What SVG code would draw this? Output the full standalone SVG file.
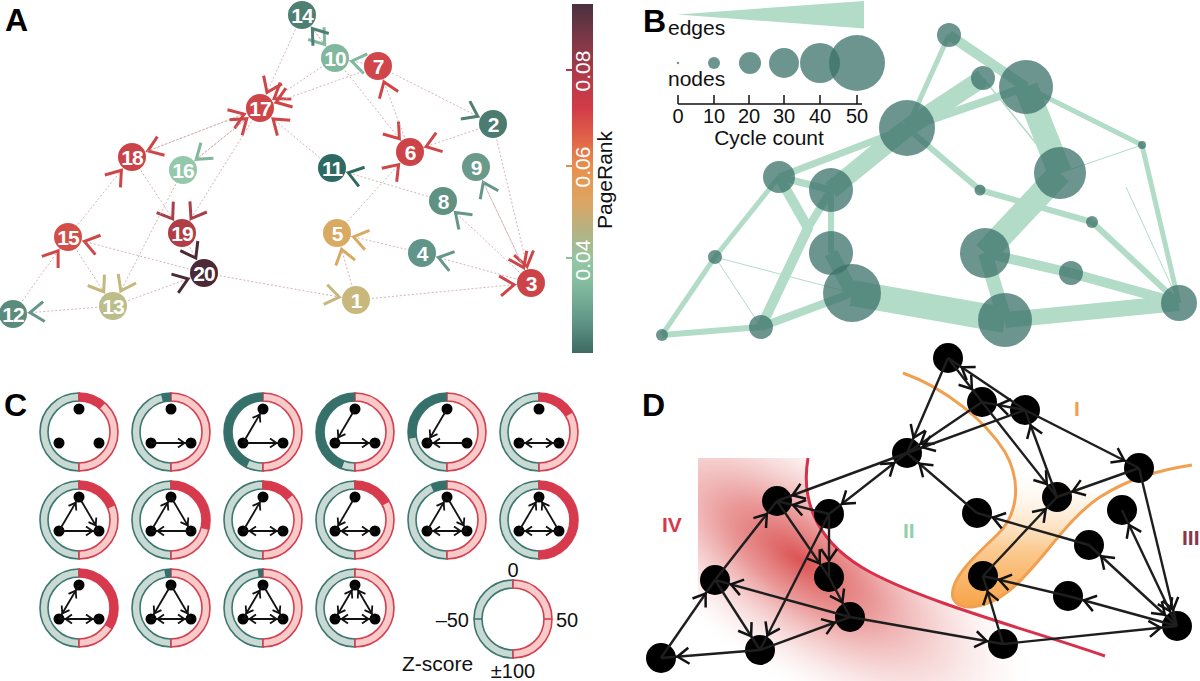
<svg xmlns="http://www.w3.org/2000/svg" width="1200" height="681" viewBox="0 0 1200 681">
<style>
.lbl{font-family:"Liberation Sans",Arial,sans-serif;font-weight:bold;font-size:32px;fill:#000}
.nl{font-family:"Liberation Sans",Arial,sans-serif;font-weight:bold;font-size:21px;fill:#fff;text-anchor:middle;letter-spacing:-1px}
.ea{stroke:#cfaaaa;stroke-width:0.9;stroke-dasharray:2 2;fill:none}
.t{font-family:"Liberation Sans",Arial,sans-serif;font-size:21px;fill:#111}
.tk{font-family:"Liberation Sans",Arial,sans-serif;font-size:21px;fill:#fff;text-anchor:middle}
.be{stroke:#b2dcc8;fill:none;stroke-linecap:butt}
.bn{fill:#3b7169;fill-opacity:0.75}
.ce{stroke:#111;stroke-width:1.8;fill:none}
.de{stroke:#1e1e1e;stroke-width:2.4;fill:none}
.zr{fill:#d63a4c}
.zt{fill:#35706a}
.rl{font-family:"Liberation Sans",Arial,sans-serif;font-weight:bold;font-size:21px}
</style>
<defs>
<linearGradient id="cbar" x1="0" y1="0" x2="0" y2="1">
<stop offset="0" stop-color="#4a3040"/>
<stop offset="0.1" stop-color="#7c3846"/>
<stop offset="0.22" stop-color="#b83a48"/>
<stop offset="0.3" stop-color="#d23c48"/>
<stop offset="0.38" stop-color="#e06048"/>
<stop offset="0.47" stop-color="#e8904c"/>
<stop offset="0.56" stop-color="#dea462"/>
<stop offset="0.65" stop-color="#b4b282"/>
<stop offset="0.74" stop-color="#92c6a4"/>
<stop offset="0.8" stop-color="#84bca0"/>
<stop offset="0.9" stop-color="#629a8a"/>
<stop offset="1" stop-color="#3e6a62"/>
</linearGradient>
<radialGradient id="redglow" gradientUnits="userSpaceOnUse" cx="800" cy="560" r="190" gradientTransform="translate(800 560) rotate(35) scale(1.5 0.62) translate(-800 -560)">
<stop offset="0" stop-color="#d84444" stop-opacity="0.92"/>
<stop offset="0.3" stop-color="#e27070" stop-opacity="0.72"/>
<stop offset="0.65" stop-color="#f0b4b4" stop-opacity="0.38"/>
<stop offset="1" stop-color="#ffffff" stop-opacity="0"/>
</radialGradient>
<linearGradient id="orfill" gradientUnits="userSpaceOnUse" x1="0" y1="605" x2="0" y2="465">
<stop offset="0" stop-color="#f7a54a"/>
<stop offset="0.4" stop-color="#fbcb92"/>
<stop offset="1" stop-color="#ffffff" stop-opacity="0"/>
</linearGradient>
<marker id="mk-red" markerUnits="userSpaceOnUse" orient="auto" style="overflow:visible"><path d="M-31,-10 L-17,0 L-31,10" fill="none" stroke="#cf4649" stroke-width="3"/></marker>
<marker id="mk-dt" markerUnits="userSpaceOnUse" orient="auto" style="overflow:visible"><path d="M-31,-10 L-17,0 L-31,10" fill="none" stroke="#4f7e73" stroke-width="3"/></marker>
<marker id="mk-lg" markerUnits="userSpaceOnUse" orient="auto" style="overflow:visible"><path d="M-31,-10 L-17,0 L-31,10" fill="none" stroke="#80b89e" stroke-width="3"/></marker>
<marker id="mk-dk" markerUnits="userSpaceOnUse" orient="auto" style="overflow:visible"><path d="M-31,-10 L-17,0 L-31,10" fill="none" stroke="#2f6a62" stroke-width="3"/></marker>
<marker id="mk-te" markerUnits="userSpaceOnUse" orient="auto" style="overflow:visible"><path d="M-31,-10 L-17,0 L-31,10" fill="none" stroke="#64968a" stroke-width="3"/></marker>
<marker id="mk-dr" markerUnits="userSpaceOnUse" orient="auto" style="overflow:visible"><path d="M-31,-10 L-17,0 L-31,10" fill="none" stroke="#a8404a" stroke-width="3"/></marker>
<marker id="mk-or" markerUnits="userSpaceOnUse" orient="auto" style="overflow:visible"><path d="M-31,-10 L-17,0 L-31,10" fill="none" stroke="#d8aa62" stroke-width="3"/></marker>
<marker id="mk-pl" markerUnits="userSpaceOnUse" orient="auto" style="overflow:visible"><path d="M-31,-10 L-17,0 L-31,10" fill="none" stroke="#4b2a36" stroke-width="3"/></marker>
<marker id="mk-kh" markerUnits="userSpaceOnUse" orient="auto" style="overflow:visible"><path d="M-31,-10 L-17,0 L-31,10" fill="none" stroke="#c4b87e" stroke-width="3"/></marker>
<marker id="cm" markerUnits="userSpaceOnUse" orient="auto-start-reverse" style="overflow:visible"><path d="M-13,-4.5 L-6.5,0 L-13,4.5" fill="none" stroke="#111" stroke-width="1.8"/></marker>
<marker id="dm" markerUnits="userSpaceOnUse" orient="auto-start-reverse" style="overflow:visible"><path d="M-28,-8 L-16.5,0 L-28,8" fill="none" stroke="#111" stroke-width="2.5"/></marker>
<g id="ring"><path d="M0,-39 A39,39 0 0 0 0,39 L0,31 A31,31 0 0 1 0,-31 Z" fill="#c9d9d4" stroke="#3e7670" stroke-width="1.6"/><path d="M0,-39 A39,39 0 0 1 0,39 L0,31 A31,31 0 0 0 0,-31 Z" fill="#f9caca" stroke="#d4404e" stroke-width="1.6"/></g>
<g id="tri"><circle cx="0" cy="-23" r="5.5"/><circle cx="-20" cy="11" r="5.5"/><circle cx="20" cy="11" r="5.5"/></g>
</defs>

<!-- Panel labels -->
<text class="lbl" x="5" y="31">A</text>
<text class="lbl" x="643" y="32">B</text>
<text class="lbl" x="4" y="416">C</text>
<text class="lbl" x="642" y="416">D</text>

<!-- ===== Panel A ===== -->
<g id="a-edges">
<line class="ea" x1="302" y1="15" x2="335" y2="58" marker-end="url(#mk-lg)"/>
<line class="ea" x1="335" y1="58" x2="302" y2="15" marker-end="url(#mk-dt)"/>
<line class="ea" x1="378" y1="66" x2="335" y2="58" marker-end="url(#mk-lg)"/>
<line class="ea" x1="302" y1="15" x2="260" y2="108" marker-end="url(#mk-red)"/>
<line class="ea" x1="335" y1="58" x2="260" y2="108" marker-end="url(#mk-red)"/>
<line class="ea" x1="378" y1="66" x2="260" y2="108" marker-end="url(#mk-red)"/>
<line class="ea" x1="335" y1="58" x2="410" y2="152" marker-end="url(#mk-red)"/>
<line class="ea" x1="410" y1="152" x2="378" y2="66" marker-end="url(#mk-red)"/>
<line class="ea" x1="378" y1="66" x2="493" y2="124" marker-end="url(#mk-dt)"/>
<line class="ea" x1="493" y1="124" x2="410" y2="152" marker-end="url(#mk-red)"/>
<line class="ea" x1="332" y1="168" x2="260" y2="108" marker-end="url(#mk-red)"/>
<line class="ea" x1="443" y1="201" x2="332" y2="168" marker-end="url(#mk-dk)"/>
<line class="ea" x1="337" y1="233" x2="410" y2="152" marker-end="url(#mk-red)"/>
<line class="ea" x1="493" y1="124" x2="531" y2="283" marker-end="url(#mk-red)"/>
<line class="ea" x1="531" y1="283" x2="476" y2="167" marker-end="url(#mk-te)"/>
<line class="ea" x1="531" y1="283" x2="443" y2="201" marker-end="url(#mk-te)"/>
<line class="ea" x1="531" y1="283" x2="422" y2="253" marker-end="url(#mk-te)"/>
<line class="ea" x1="422" y1="253" x2="337" y2="233" marker-end="url(#mk-or)"/>
<line class="ea" x1="356" y1="300" x2="337" y2="233" marker-end="url(#mk-or)"/>
<line class="ea" x1="356" y1="300" x2="531" y2="283" marker-end="url(#mk-red)"/>
<line class="ea" x1="204" y1="273" x2="356" y2="300" marker-end="url(#mk-kh)"/>
<line class="ea" x1="476" y1="167" x2="531" y2="283" marker-end="url(#mk-red)"/>
<line class="ea" x1="260" y1="108" x2="132" y2="157" marker-end="url(#mk-red)"/>
<line class="ea" x1="260" y1="108" x2="183" y2="170" marker-end="url(#mk-lg)"/>
<line class="ea" x1="132" y1="157" x2="260" y2="108" marker-end="url(#mk-red)"/>
<line class="ea" x1="183" y1="170" x2="260" y2="108" marker-end="url(#mk-red)"/>
<line class="ea" x1="68" y1="237" x2="132" y2="157" marker-end="url(#mk-red)"/>
<line class="ea" x1="132" y1="157" x2="182" y2="233" marker-end="url(#mk-dr)"/>
<line class="ea" x1="260" y1="108" x2="182" y2="233" marker-end="url(#mk-dr)"/>
<line class="ea" x1="182" y1="233" x2="204" y2="273" marker-end="url(#mk-pl)"/>
<line class="ea" x1="113" y1="306" x2="204" y2="273" marker-end="url(#mk-pl)"/>
<line class="ea" x1="204" y1="273" x2="68" y2="237" marker-end="url(#mk-red)"/>
<line class="ea" x1="13" y1="314" x2="68" y2="237" marker-end="url(#mk-red)"/>
<line class="ea" x1="68" y1="237" x2="113" y2="306" marker-end="url(#mk-kh)"/>
<line class="ea" x1="113" y1="306" x2="13" y2="314" marker-end="url(#mk-te)"/>
<line class="ea" x1="183" y1="170" x2="113" y2="306" marker-end="url(#mk-kh)"/>
</g>
<g id="a-n1"><circle cx="356" cy="300" r="14" fill="#c8b87e"/><text class="nl" x="356" y="307.5">1</text></g>
<g id="a-n2"><circle cx="493" cy="124" r="14" fill="#4c7c70"/><text class="nl" x="493" y="131.5">2</text></g>
<g id="a-n3"><circle cx="531" cy="283" r="14" fill="#cc4448"/><text class="nl" x="531" y="290.5">3</text></g>
<g id="a-n4"><circle cx="422" cy="253" r="14" fill="#62958a"/><text class="nl" x="422" y="260.5">4</text></g>
<g id="a-n5"><circle cx="337" cy="233" r="14" fill="#d8aa62"/><text class="nl" x="337" y="240.5">5</text></g>
<g id="a-n6"><circle cx="410" cy="152" r="14" fill="#cc4448"/><text class="nl" x="410" y="159.5">6</text></g>
<g id="a-n7"><circle cx="378" cy="66" r="14" fill="#d0464a"/><text class="nl" x="378" y="73.5">7</text></g>
<g id="a-n8"><circle cx="443" cy="201" r="14" fill="#5f9282"/><text class="nl" x="443" y="208.5">8</text></g>
<g id="a-n9"><circle cx="476" cy="167" r="14" fill="#6a9a8a"/><text class="nl" x="476" y="174.5">9</text></g>
<g id="a-n10"><circle cx="335" cy="58" r="14" fill="#80b89e"/><text class="nl" x="335" y="65.5">10</text></g>
<g id="a-n11"><circle cx="332" cy="168" r="14" fill="#2f6a62"/><text class="nl" x="332" y="175.5">11</text></g>
<g id="a-n12"><circle cx="13" cy="314" r="14" fill="#5a8c7c"/><text class="nl" x="13" y="321.5">12</text></g>
<g id="a-n13"><circle cx="113" cy="306" r="14" fill="#bcbd8a"/><text class="nl" x="113" y="313.5">13</text></g>
<g id="a-n14"><circle cx="302" cy="15" r="14" fill="#4f7e73"/><text class="nl" x="302" y="22.5">14</text></g>
<g id="a-n15"><circle cx="68" cy="237" r="14" fill="#d24e48"/><text class="nl" x="68" y="244.5">15</text></g>
<g id="a-n16"><circle cx="183" cy="170" r="14" fill="#94c8aa"/><text class="nl" x="183" y="177.5">16</text></g>
<g id="a-n17"><circle cx="260" cy="108" r="14" fill="#cf4649"/><text class="nl" x="260" y="115.5">17</text></g>
<g id="a-n18"><circle cx="132" cy="157" r="14" fill="#c94348"/><text class="nl" x="132" y="164.5">18</text></g>
<g id="a-n19"><circle cx="182" cy="233" r="14" fill="#b03e46"/><text class="nl" x="182" y="240.5">19</text></g>
<g id="a-n20"><circle cx="204" cy="273" r="14" fill="#4b2a36"/><text class="nl" x="204" y="280.5">20</text></g>

<g id="a-colorbar">
<rect x="572" y="4" width="21" height="349" fill="url(#cbar)"/>
<line x1="566" y1="70" x2="572" y2="70" stroke="#b03848" stroke-width="2"/>
<line x1="566" y1="166" x2="572" y2="166" stroke="#e0904c" stroke-width="2"/>
<line x1="566" y1="258" x2="572" y2="258" stroke="#90c0a0" stroke-width="2"/>
<text class="tk" transform="translate(590 71) rotate(-90)">0.08</text>
<text class="tk" transform="translate(590 167) rotate(-90)">0.06</text>
<text class="tk" transform="translate(590 260) rotate(-90)">0.04</text>
<text class="t" text-anchor="middle" transform="translate(612 180) rotate(-90)">PageRank</text>
</g>

<!-- ===== Panel B ===== -->
<g id="b-legend">
<polygon points="677,14.5 864,1 864,28.5" fill="#b2dcc8"/>
<text class="t" x="668" y="35">edges</text>
<text class="t" x="668" y="86">nodes</text>
<circle class="bn" cx="678" cy="63" r="1.2"/>
<circle class="bn" cx="714" cy="63" r="6"/>
<circle class="bn" cx="750" cy="63" r="11"/>
<circle class="bn" cx="784" cy="63" r="15"/>
<circle class="bn" cx="820" cy="63" r="20"/>
<circle class="bn" cx="857" cy="63" r="28"/>
<path d="M678,104 H862 M678,95 V104 M714,95 V104 M749,95 V104 M784,95 V104 M820,95 V104 M857,95 V104" stroke="#111" stroke-width="1.5" fill="none"/>
<g class="t" text-anchor="middle" style="font-size:20px">
<text x="678" y="123">0</text><text x="714" y="123">10</text><text x="749" y="123">20</text><text x="784" y="123">30</text><text x="820" y="123">40</text><text x="857" y="123">50</text>
</g>
<text class="t" x="769" y="145" text-anchor="middle">Cycle count</text>
</g>
<g id="b-edges">
<line class="be" x1="949" y1="35" x2="907" y2="128" stroke-width="5"/>
<line class="be" x1="949" y1="35" x2="1026" y2="87" stroke-width="10"/>
<line class="be" x1="983" y1="78" x2="1060" y2="173" stroke-width="1.5"/>
<line class="be" x1="907" y1="128" x2="983" y2="78" stroke-width="18"/>
<line class="be" x1="907" y1="128" x2="1026" y2="87" stroke-width="8"/>
<line class="be" x1="1026" y1="87" x2="1060" y2="173" stroke-width="24"/>
<line class="be" x1="1026" y1="87" x2="1142" y2="145" stroke-width="5"/>
<line class="be" x1="1142" y1="145" x2="1060" y2="173" stroke-width="1"/>
<line class="be" x1="1142" y1="145" x2="1179" y2="303" stroke-width="5"/>
<line class="be" x1="1126" y1="187" x2="1176" y2="296" stroke-width="1"/>
<line class="be" x1="907" y1="128" x2="779" y2="177" stroke-width="7"/>
<line class="be" x1="907" y1="128" x2="831" y2="190" stroke-width="18"/>
<line class="be" x1="907" y1="128" x2="980" y2="190" stroke-width="6"/>
<line class="be" x1="779" y1="177" x2="831" y2="190" stroke-width="7"/>
<line class="be" x1="779" y1="177" x2="715" y2="257" stroke-width="5"/>
<path class="be" d="M779,177 L808,228 L761,327" stroke-width="10" stroke-linejoin="round"/>
<path class="be" d="M831,190 L808,228" stroke-width="8"/>
<line class="be" x1="831" y1="190" x2="831" y2="253" stroke-width="6"/>
<line class="be" x1="831" y1="253" x2="852" y2="293" stroke-width="14"/>
<line class="be" x1="715" y1="257" x2="662" y2="335" stroke-width="5"/>
<line class="be" x1="715" y1="257" x2="761" y2="327" stroke-width="1"/>
<line class="be" x1="715" y1="257" x2="852" y2="293" stroke-width="1"/>
<line class="be" x1="662" y1="335" x2="761" y2="327" stroke-width="6"/>
<line class="be" x1="761" y1="327" x2="852" y2="293" stroke-width="8"/>
<line class="be" x1="852" y1="293" x2="1005" y2="320" stroke-width="26"/>
<line class="be" x1="1005" y1="320" x2="1179" y2="303" stroke-width="16"/>
<line class="be" x1="1005" y1="320" x2="985" y2="253" stroke-width="14"/>
<line class="be" x1="985" y1="253" x2="1060" y2="173" stroke-width="24"/>
<line class="be" x1="985" y1="253" x2="1071" y2="273" stroke-width="10"/>
<line class="be" x1="1071" y1="273" x2="1179" y2="303" stroke-width="10"/>
<line class="be" x1="980" y1="190" x2="1092" y2="222" stroke-width="6"/>
<line class="be" x1="1092" y1="222" x2="1179" y2="303" stroke-width="6"/>
</g>
<g id="b-nodes">
<circle id="b-n1" class="bn" cx="949" cy="35" r="12"/>
<circle id="b-n2" class="bn" cx="983" cy="78" r="12"/>
<circle id="b-n3" class="bn" cx="1026" cy="87" r="27"/>
<circle id="b-n4" class="bn" cx="907" cy="128" r="28"/>
<circle id="b-n5" class="bn" cx="1142" cy="145" r="4"/>
<circle id="b-n6" class="bn" cx="1060" cy="173" r="26"/>
<circle id="b-n7" class="bn" cx="779" cy="177" r="16"/>
<circle id="b-n8" class="bn" cx="831" cy="190" r="22"/>
<circle id="b-n9" class="bn" cx="980" cy="190" r="5.5"/>
<circle id="b-n10" class="bn" cx="1092" cy="222" r="6"/>
<circle id="b-n11" class="bn" cx="715" cy="257" r="7"/>
<circle id="b-n12" class="bn" cx="831" cy="253" r="22"/>
<circle id="b-n13" class="bn" cx="985" cy="253" r="25"/>
<circle id="b-n14" class="bn" cx="1071" cy="273" r="12"/>
<circle id="b-n15" class="bn" cx="852" cy="293" r="29"/>
<circle id="b-n16" class="bn" cx="1005" cy="320" r="27"/>
<circle id="b-n17" class="bn" cx="1179" cy="303" r="18"/>
<circle id="b-n18" class="bn" cx="761" cy="327" r="12"/>
<circle id="b-n19" class="bn" cx="662" cy="335" r="6"/>
</g>

<!-- ===== Panel C ===== -->
<g id="c-r1c1" transform="translate(79,432)"><use href="#ring"/><path class="zr" d="M0,-39 A39,39 0 0 1 26.10,-28.98 L20.74,-23.04 A31,31 0 0 0 0,-31Z"/><use href="#tri"/></g>
<g id="c-r1c2" transform="translate(171,432)"><use href="#ring"/><path class="zt" d="M0,-39 A39,39 0 0 0 -10.09,-37.67 L-8.02,-29.94 A31,31 0 0 1 0,-31Z"/><use href="#tri"/>
<line class="ce" x1="-20" y1="11" x2="20" y2="11" marker-end="url(#cm)"/></g>
<g id="c-r1c3" transform="translate(263,432)"><use href="#ring"/><path class="zt" d="M0,-39 A39,39 0 0 0 -16.48,35.35 L-13.10,28.10 A31,31 0 0 1 0,-31Z"/><use href="#tri"/>
<line class="ce" x1="-20" y1="11" x2="20" y2="11" marker-end="url(#cm)"/><line class="ce" x1="-20" y1="11" x2="0" y2="-23" marker-end="url(#cm)"/></g>
<g id="c-r1c4" transform="translate(355,432)"><use href="#ring"/><path class="zt" d="M0,-39 A39,39 0 0 0 -13.34,36.65 L-10.60,29.13 A31,31 0 0 1 0,-31Z"/><use href="#tri"/>
<line class="ce" x1="0" y1="-23" x2="-20" y2="11" marker-end="url(#cm)"/><line class="ce" x1="-20" y1="11" x2="20" y2="11" marker-end="url(#cm)"/></g>
<g id="c-r1c5" transform="translate(447,432)"><use href="#ring"/><path class="zt" d="M0,-39 A39,39 0 0 0 -38.41,6.77 L-30.53,5.38 A31,31 0 0 1 0,-31Z"/><use href="#tri"/>
<line class="ce" x1="0" y1="-23" x2="-20" y2="11" marker-end="url(#cm)"/><line class="ce" x1="20" y1="11" x2="-20" y2="11" marker-end="url(#cm)"/></g>
<g id="c-r1c6" transform="translate(539,432)"><use href="#ring"/><path class="zr" d="M0,-39 A39,39 0 0 1 33.77,-19.5 L26.85,-15.5 A31,31 0 0 0 0,-31Z"/><use href="#tri"/>
<line class="ce" x1="-20" y1="11" x2="20" y2="11" marker-start="url(#cm)" marker-end="url(#cm)"/></g>

<g id="c-r2c1" transform="translate(79,520)"><use href="#ring"/><path class="zr" d="M0,-39 A39,39 0 0 1 36.16,-14.61 L28.74,-11.61 A31,31 0 0 0 0,-31Z"/><use href="#tri"/>
<line class="ce" x1="-20" y1="11" x2="0" y2="-23" marker-end="url(#cm)"/><line class="ce" x1="0" y1="-23" x2="20" y2="11" marker-end="url(#cm)"/><line class="ce" x1="-20" y1="11" x2="20" y2="11" marker-end="url(#cm)"/></g>
<g id="c-r2c2" transform="translate(171,520)"><use href="#ring"/><path class="zr" d="M0,-39 A39,39 0 0 1 37.67,10.09 L29.94,8.02 A31,31 0 0 0 0,-31Z"/><use href="#tri"/>
<line class="ce" x1="-20" y1="11" x2="0" y2="-23" marker-end="url(#cm)"/><line class="ce" x1="0" y1="-23" x2="20" y2="11" marker-end="url(#cm)"/><line class="ce" x1="20" y1="11" x2="-20" y2="11" marker-end="url(#cm)"/></g>
<g id="c-r2c3" transform="translate(263,520)"><use href="#ring"/><path class="zr" d="M0,-39 A39,39 0 0 1 29.88,-25.07 L23.75,-19.93 A31,31 0 0 0 0,-31Z"/><use href="#tri"/>
<line class="ce" x1="-20" y1="11" x2="0" y2="-23" marker-end="url(#cm)"/><line class="ce" x1="-20" y1="11" x2="20" y2="11" marker-start="url(#cm)" marker-end="url(#cm)"/></g>
<g id="c-r2c4" transform="translate(355,520)"><use href="#ring"/><path class="zr" d="M0,-39 A39,39 0 0 1 34.43,-18.31 L27.37,-14.55 A31,31 0 0 0 0,-31Z"/><use href="#tri"/>
<line class="ce" x1="0" y1="-23" x2="-20" y2="11" marker-end="url(#cm)"/><line class="ce" x1="-20" y1="11" x2="20" y2="11" marker-start="url(#cm)" marker-end="url(#cm)"/></g>
<g id="c-r2c5" transform="translate(447,520)"><use href="#ring"/><path class="zt" d="M0,-39 A39,39 0 0 0 -16.48,-35.35 L-13.10,-28.10 A31,31 0 0 1 0,-31Z"/><use href="#tri"/>
<line class="ce" x1="-20" y1="11" x2="0" y2="-23" marker-end="url(#cm)"/><line class="ce" x1="0" y1="-23" x2="20" y2="11" marker-end="url(#cm)"/><line class="ce" x1="-20" y1="11" x2="20" y2="11" marker-start="url(#cm)" marker-end="url(#cm)"/></g>
<g id="c-r2c6" transform="translate(539,520)"><use href="#ring"/><path class="zr" d="M0,-39 A39,39 0 0 1 0,39 L0,31 A31,31 0 0 0 0,-31Z"/><use href="#tri"/>
<line class="ce" x1="-20" y1="11" x2="0" y2="-23" marker-end="url(#cm)"/><line class="ce" x1="20" y1="11" x2="0" y2="-23" marker-end="url(#cm)"/><line class="ce" x1="-20" y1="11" x2="20" y2="11" marker-start="url(#cm)" marker-end="url(#cm)"/></g>

<g id="c-r3c1" transform="translate(79,608)"><use href="#ring"/><path class="zr" d="M0,-39 A39,39 0 0 1 32.71,21.24 L26.0,16.88 A31,31 0 0 0 0,-31Z"/><use href="#tri"/>
<line class="ce" x1="-20" y1="11" x2="0" y2="-23" marker-start="url(#cm)" marker-end="url(#cm)"/><line class="ce" x1="-20" y1="11" x2="20" y2="11" marker-start="url(#cm)" marker-end="url(#cm)"/></g>
<g id="c-r3c2" transform="translate(171,608)"><use href="#ring"/><path class="zt" d="M0,-39 A39,39 0 0 0 -6.77,-38.41 L-5.38,-30.53 A31,31 0 0 1 0,-31Z"/><use href="#tri"/>
<line class="ce" x1="0" y1="-23" x2="-20" y2="11" marker-end="url(#cm)"/><line class="ce" x1="0" y1="-23" x2="20" y2="11" marker-end="url(#cm)"/><line class="ce" x1="-20" y1="11" x2="20" y2="11" marker-start="url(#cm)" marker-end="url(#cm)"/></g>
<g id="c-r3c3" transform="translate(263,608)"><use href="#ring"/><path class="zt" d="M0,-39 A39,39 0 0 0 -5.43,-38.62 L-4.31,-30.70 A31,31 0 0 1 0,-31Z"/><use href="#tri"/>
<line class="ce" x1="-20" y1="11" x2="0" y2="-23" marker-start="url(#cm)" marker-end="url(#cm)"/><line class="ce" x1="0" y1="-23" x2="20" y2="11" marker-end="url(#cm)"/><line class="ce" x1="-20" y1="11" x2="20" y2="11" marker-start="url(#cm)" marker-end="url(#cm)"/></g>
<g id="c-r3c4" transform="translate(355,608)"><use href="#ring"/><use href="#tri"/>
<line class="ce" x1="-20" y1="11" x2="0" y2="-23" marker-start="url(#cm)" marker-end="url(#cm)"/><line class="ce" x1="20" y1="11" x2="0" y2="-23" marker-start="url(#cm)" marker-end="url(#cm)"/><line class="ce" x1="-20" y1="11" x2="20" y2="11" marker-start="url(#cm)" marker-end="url(#cm)"/></g>

<g id="c-legend">
<g transform="translate(513,619)"><use href="#ring"/>
<line x1="-39" y1="0" x2="-31" y2="0" stroke="#3e7670" stroke-width="1.6"/>
<line x1="31" y1="0" x2="39" y2="0" stroke="#d4404e" stroke-width="1.6"/></g>
<text class="t" x="513" y="577" text-anchor="middle" style="font-size:20px">0</text>
<text class="t" x="469" y="627" text-anchor="end" style="font-size:20px">–50</text>
<text class="t" x="556" y="627" style="font-size:20px">50</text>
<text class="t" x="402" y="671">Z-score</text>
<text class="t" x="513" y="678" text-anchor="middle" style="font-size:20px">±100</text>
</g>

<!-- ===== Panel D ===== -->
<g id="d-regions">
<path d="M698,458 L808,458 C800,505 820,545 870,572 C930,604 1030,630 1105,656 L1105,681 L698,681 Z" fill="url(#redglow)"/>
<path d="M808,458 C800,505 820,545 870,572 C930,604 1030,630 1105,656" fill="none" stroke="#d8304a" stroke-width="3"/>
<path d="M1005,452 C1022,482 1018,515 997,535 C975,556 948,580 953,598 C958,612 985,610 1010,590 C1040,566 1065,520 1100,497 Z" fill="url(#orfill)"/>
<path d="M903,373 C945,388 985,420 1005,452 C1022,482 1018,515 997,535 C975,556 948,580 953,598 C958,612 985,610 1010,590 C1040,566 1065,520 1100,497 C1130,478 1160,470 1192,465" fill="none" stroke="#f0a050" stroke-width="3"/>
<text class="rl" x="1074" y="416" fill="#f0a050">I</text>
<text class="rl" x="903" y="538" fill="#90d0aa">II</text>
<text class="rl" x="1182" y="545" fill="#8a3646">III</text>
<text class="rl" x="662" y="532" fill="#d83848">IV</text>
</g>
<g id="d-nodes" fill="#000">
<circle id="d-a" cx="948" cy="358" r="15"/>
<circle id="d-b" cx="982" cy="402" r="15"/>
<circle id="d-c" cx="1025" cy="410" r="15"/>
<circle id="d-d" cx="907" cy="453" r="15"/>
<circle id="d-e" cx="1139" cy="468" r="15"/>
<circle id="d-f" cx="1057" cy="497" r="15"/>
<circle id="d-g" cx="977" cy="513" r="15"/>
<circle id="d-h" cx="1122" cy="510" r="15"/>
<circle id="d-i" cx="1089" cy="545" r="15"/>
<circle id="d-j" cx="983" cy="576" r="15"/>
<circle id="d-k" cx="1068" cy="596" r="15"/>
<circle id="d-l" cx="1177" cy="626" r="15"/>
<circle id="d-m" cx="1003" cy="644" r="15"/>
<circle id="d-n" cx="777" cy="501" r="15"/>
<circle id="d-o" cx="829" cy="514" r="15"/>
<circle id="d-p" cx="829" cy="577" r="15"/>
<circle id="d-q" cx="850" cy="617" r="15"/>
<circle id="d-r" cx="715" cy="580" r="15"/>
<circle id="d-s" cx="760" cy="650" r="15"/>
<circle id="d-t" cx="661" cy="658" r="15"/>
</g>
<g id="d-edges">
<line class="de" x1="948" y1="358" x2="907" y2="453" marker-end="url(#dm)"/>
<line class="de" x1="948" y1="358" x2="982" y2="402" marker-end="url(#dm)"/>
<line class="de" x1="1025" y1="410" x2="948" y2="358" marker-end="url(#dm)"/>
<line class="de" x1="982" y1="402" x2="907" y2="453" marker-end="url(#dm)"/>
<line class="de" x1="1025" y1="410" x2="907" y2="453" marker-end="url(#dm)"/>
<line class="de" x1="1025" y1="410" x2="982" y2="402" marker-end="url(#dm)"/>
<line class="de" x1="982" y1="402" x2="1057" y2="497" marker-end="url(#dm)"/>
<line class="de" x1="1057" y1="497" x2="1025" y2="410" marker-end="url(#dm)"/>
<line class="de" x1="1025" y1="410" x2="1139" y2="468" marker-end="url(#dm)"/>
<line class="de" x1="1139" y1="468" x2="1057" y2="497" marker-end="url(#dm)"/>
<line class="de" x1="1139" y1="468" x2="1177" y2="626" marker-end="url(#dm)"/>
<line class="de" x1="977" y1="513" x2="907" y2="453" marker-end="url(#dm)"/>
<line class="de" x1="1089" y1="545" x2="977" y2="513" marker-end="url(#dm)"/>
<line class="de" x1="983" y1="576" x2="1057" y2="497" marker-end="url(#dm)"/>
<line class="de" x1="1068" y1="596" x2="983" y2="576" marker-end="url(#dm)"/>
<line class="de" x1="1003" y1="644" x2="983" y2="576" marker-end="url(#dm)"/>
<line class="de" x1="1177" y1="626" x2="1068" y2="596" marker-end="url(#dm)"/>
<line class="de" x1="1089" y1="545" x2="1177" y2="626" marker-start="url(#dm)" marker-end="url(#dm)"/>
<line class="de" x1="1122" y1="510" x2="1177" y2="626" marker-start="url(#dm)" marker-end="url(#dm)"/>
<line class="de" x1="1003" y1="644" x2="1177" y2="626" marker-end="url(#dm)"/>
<line class="de" x1="850" y1="617" x2="1003" y2="644" marker-end="url(#dm)"/>
<line class="de" x1="850" y1="617" x2="715" y2="580" marker-end="url(#dm)"/>
<line class="de" x1="907" y1="453" x2="777" y2="501" marker-end="url(#dm)"/>
<line class="de" x1="829" y1="514" x2="907" y2="453" marker-start="url(#dm)" marker-end="url(#dm)"/>
<line class="de" x1="829" y1="514" x2="777" y2="501" marker-end="url(#dm)"/>
<line class="de" x1="777" y1="501" x2="829" y2="577" marker-end="url(#dm)"/>
<line class="de" x1="829" y1="514" x2="829" y2="577" marker-end="url(#dm)"/>
<line class="de" x1="829" y1="577" x2="850" y2="617" marker-end="url(#dm)"/>
<line class="de" x1="715" y1="580" x2="777" y2="501" marker-end="url(#dm)"/>
<line class="de" x1="661" y1="658" x2="715" y2="580" marker-end="url(#dm)"/>
<line class="de" x1="715" y1="580" x2="760" y2="650" marker-end="url(#dm)"/>
<line class="de" x1="760" y1="650" x2="661" y2="658" marker-end="url(#dm)"/>
<line class="de" x1="829" y1="514" x2="760" y2="650" marker-end="url(#dm)"/>
<line class="de" x1="760" y1="650" x2="850" y2="617" marker-end="url(#dm)"/>
</g>
</svg>
